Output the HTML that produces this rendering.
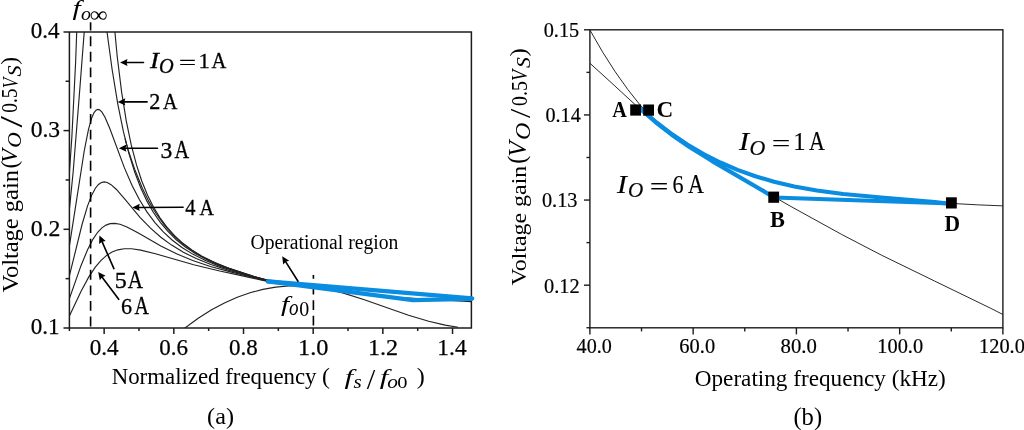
<!DOCTYPE html>
<html><head><meta charset="utf-8"><title>Voltage gain plots</title>
<style>html,body{margin:0;padding:0;background:#fff;overflow:hidden}svg{display:block}</style></head>
<body><svg width="1024" height="430" viewBox="0 0 1024 430">
<rect width="1024" height="430" fill="#fff"/>
<defs><clipPath id="cl"><rect x="69.4" y="31.9" width="402.0" height="296.1"/></clipPath></defs>
<g clip-path="url(#cl)">
<path d="M68.00 193.22 L71.91 136.16 L75.62 62.19 L79.23 -37.29 L79.74 -50.00 L108.69 -50.00 L113.12 12.93 L117.24 56.70 L121.67 92.38 L126.30 121.08 L131.24 144.94 L136.50 164.91 L141.67 180.69 L147.56 195.22 L153.46 207.04 L159.84 217.57 L166.71 226.92 L174.57 235.68 L182.91 243.31 L192.24 250.30 L203.04 256.87 L215.32 262.89 L229.07 268.28 L253.61 276.41 L268.34 280.36 L287.00 283.73" fill="none" stroke="#222" stroke-width="1.15"/>
<path d="M68.00 223.26 L73.15 171.96 L79.33 95.26 L86.13 6.96 L89.12 -21.63 L91.28 -34.56 L92.82 -39.25 L93.85 -40.27 L94.78 -39.83 L96.22 -36.81 L98.49 -27.28 L102.30 -2.74 L112.09 69.25 L117.85 104.36 L123.42 131.73 L129.08 154.17 L134.85 172.61 L140.69 187.81 L147.07 201.37 L153.46 212.51 L160.33 222.43 L167.69 231.23 L176.04 239.46 L185.37 246.98 L195.68 253.76 L207.46 260.03 L220.72 265.70 L244.78 273.89 L264.91 279.70 L286.02 283.61 L287.00 283.77" fill="none" stroke="#222" stroke-width="1.15"/>
<path d="M68.00 254.84 L76.76 198.80 L84.38 150.03 L88.50 129.30 L91.59 118.26 L94.06 112.62 L96.02 110.15 L97.77 109.36 L99.52 109.78 L101.79 111.88 L104.88 116.98 L109.72 128.30 L124.34 167.63 L132.07 185.45 L139.48 199.83 L147.07 212.08 L154.93 222.61 L163.28 231.88 L172.11 239.99 L181.93 247.42 L192.73 254.12 L205.01 260.30 L218.76 265.90 L234.96 271.16 L256.07 277.56 L268.83 280.70 L287.00 283.83" fill="none" stroke="#222" stroke-width="1.15"/>
<path d="M68.00 281.50 L82.11 224.25 L87.57 205.83 L91.79 194.89 L95.40 188.22 L98.49 184.48 L101.37 182.55 L104.15 181.94 L107.24 182.51 L111.06 184.63 L116.21 189.24 L125.68 200.24 L140.00 217.30 L150.51 228.16 L160.82 237.19 L171.62 245.11 L183.41 252.24 L196.17 258.59 L210.90 264.53 L227.59 269.92 L259.01 278.69 L269.33 281.01 L287.00 283.91" fill="none" stroke="#222" stroke-width="1.15"/>
<path d="M68.00 302.56 L80.98 265.68 L87.67 249.45 L93.03 239.07 L97.67 232.28 L101.89 227.88 L106.01 225.11 L110.13 223.67 L114.66 223.35 L120.02 224.28 L126.92 226.92 L138.35 233.09 L160.82 246.05 L176.53 253.83 L192.73 260.51 L210.41 266.46 L230.54 271.91 L263.92 280.25 L286.51 283.94 L287.00 284.01" fill="none" stroke="#222" stroke-width="1.15"/>
<path d="M68.00 319.00 L81.08 291.14 L88.81 276.92 L95.30 267.11 L101.06 260.28 L106.63 255.35 L112.09 251.99 L117.85 249.81 L124.14 248.73 L131.55 248.75 L140.69 250.08 L155.42 253.78 L193.72 264.77 L219.74 271.03 L241.34 275.63 L267.36 281.31 L287.00 284.13" fill="none" stroke="#222" stroke-width="1.15"/>
<path d="M400.00 297.50 L471.40 301.60" fill="none" stroke="#222" stroke-width="1.15"/>
<path d="M125.00 138.50 L127.84 149.19 L134.74 169.44 L142.46 188.46 L148.95 201.66 L155.86 213.22 L164.79 225.59 L172.50 234.34 L181.03 242.28 L190.37 249.39 L200.92 255.95 L212.70 261.89 L226.50 267.48 L252.89 276.24 L267.92 280.29 L287.00 283.74" fill="none" stroke="#222" stroke-width="1.15"/>
<path d="M184.10 328.61 L197.84 318.51 L211.58 309.82 L224.41 302.95 L237.23 297.27 L250.06 292.76 L262.88 289.39 L275.71 287.15 L288.53 286.01 L301.35 285.97 L314.18 287.00 L327.92 289.26 L343.49 293.10 L363.65 299.47 L408.53 315.22 L428.69 321.25 L445.18 325.13 L458.00 327.27" fill="none" stroke="#222" stroke-width="1.15"/>
</g>
<line x1="90.6" y1="22.3" x2="90.6" y2="328.0" stroke="#000" stroke-width="1.6" stroke-dasharray="9.9 5.67" stroke-dashoffset="1.6"/>
<line x1="313.4" y1="274.9" x2="313.4" y2="328.0" stroke="#000" stroke-width="1.6" stroke-dasharray="9.8 5.8" stroke-dashoffset="5.9"/>
<path d="M63.5 31.9 L471.4 31.9 L471.4 328.0 L63.5 328.0" fill="none" stroke="#1c1c1c" stroke-width="1.5"/>
<line x1="69.4" y1="31.9" x2="69.4" y2="331.0" stroke="#1c1c1c" stroke-width="1.5"/>
<line x1="63.5" y1="229.30" x2="69.4" y2="229.30" stroke="#1c1c1c" stroke-width="1.5"/>
<line x1="63.5" y1="130.60" x2="69.4" y2="130.60" stroke="#1c1c1c" stroke-width="1.5"/>
<line x1="65.6" y1="278.65" x2="69.4" y2="278.65" stroke="#1c1c1c" stroke-width="1.5"/>
<line x1="65.6" y1="179.95" x2="69.4" y2="179.95" stroke="#1c1c1c" stroke-width="1.5"/>
<line x1="65.6" y1="81.25" x2="69.4" y2="81.25" stroke="#1c1c1c" stroke-width="1.5"/>
<line x1="104.14" y1="328.0" x2="104.14" y2="334.0" stroke="#1c1c1c" stroke-width="1.5"/>
<line x1="173.82" y1="328.0" x2="173.82" y2="334.0" stroke="#1c1c1c" stroke-width="1.5"/>
<line x1="243.50" y1="328.0" x2="243.50" y2="334.0" stroke="#1c1c1c" stroke-width="1.5"/>
<line x1="313.18" y1="328.0" x2="313.18" y2="334.0" stroke="#1c1c1c" stroke-width="1.5"/>
<line x1="382.86" y1="328.0" x2="382.86" y2="334.0" stroke="#1c1c1c" stroke-width="1.5"/>
<line x1="452.54" y1="328.0" x2="452.54" y2="334.0" stroke="#1c1c1c" stroke-width="1.5"/>
<line x1="138.98" y1="328.0" x2="138.98" y2="331.0" stroke="#1c1c1c" stroke-width="1.5"/>
<line x1="208.66" y1="328.0" x2="208.66" y2="331.0" stroke="#1c1c1c" stroke-width="1.5"/>
<line x1="278.34" y1="328.0" x2="278.34" y2="331.0" stroke="#1c1c1c" stroke-width="1.5"/>
<line x1="348.02" y1="328.0" x2="348.02" y2="331.0" stroke="#1c1c1c" stroke-width="1.5"/>
<line x1="417.70" y1="328.0" x2="417.70" y2="331.0" stroke="#1c1c1c" stroke-width="1.5"/>
<path d="M268.0 281.4 L472.2 298.3" fill="none" stroke="#0a8de0" stroke-width="4.3" stroke-linecap="round"/>
<path d="M268.0 281.4 L413.0 300.1 L471.5 298.9" fill="none" stroke="#0a8de0" stroke-width="4.3" stroke-linecap="round" stroke-linejoin="round"/>
<text x="30.68" y="334.47" font-family="'Liberation Serif', serif" font-style="normal" font-weight="normal" font-size="23.43" textLength="28.80" lengthAdjust="spacingAndGlyphs" fill="#000" stroke="#000" stroke-width="0.25">0.1</text>
<text x="30.65" y="235.77" font-family="'Liberation Serif', serif" font-style="normal" font-weight="normal" font-size="23.43" textLength="29.74" lengthAdjust="spacingAndGlyphs" fill="#000" stroke="#000" stroke-width="0.25">0.2</text>
<text x="30.66" y="137.07" font-family="'Liberation Serif', serif" font-style="normal" font-weight="normal" font-size="23.43" textLength="29.49" lengthAdjust="spacingAndGlyphs" fill="#000" stroke="#000" stroke-width="0.25">0.3</text>
<text x="30.68" y="38.37" font-family="'Liberation Serif', serif" font-style="normal" font-weight="normal" font-size="23.43" textLength="28.75" lengthAdjust="spacingAndGlyphs" fill="#000" stroke="#000" stroke-width="0.25">0.4</text>
<text x="89.67" y="355.28" font-family="'Liberation Serif', serif" font-style="normal" font-weight="normal" font-size="22.39" textLength="28.96" lengthAdjust="spacingAndGlyphs" fill="#000" stroke="#000" stroke-width="0.25">0.4</text>
<text x="159.28" y="355.28" font-family="'Liberation Serif', serif" font-style="normal" font-weight="normal" font-size="22.39" textLength="28.71" lengthAdjust="spacingAndGlyphs" fill="#000" stroke="#000" stroke-width="0.25">0.6</text>
<text x="229.08" y="355.28" font-family="'Liberation Serif', serif" font-style="normal" font-weight="normal" font-size="22.39" textLength="28.74" lengthAdjust="spacingAndGlyphs" fill="#000" stroke="#000" stroke-width="0.25">0.8</text>
<text x="298.11" y="355.28" font-family="'Liberation Serif', serif" font-style="normal" font-weight="normal" font-size="22.39" textLength="30.36" lengthAdjust="spacingAndGlyphs" fill="#000" stroke="#000" stroke-width="0.25">1.0</text>
<text x="368.03" y="355.27" font-family="'Liberation Serif', serif" font-style="normal" font-weight="normal" font-size="22.73" textLength="30.18" lengthAdjust="spacingAndGlyphs" fill="#000" stroke="#000" stroke-width="0.25">1.2</text>
<text x="437.39" y="355.27" font-family="'Liberation Serif', serif" font-style="normal" font-weight="normal" font-size="22.73" textLength="29.24" lengthAdjust="spacingAndGlyphs" fill="#000" stroke="#000" stroke-width="0.25">1.4</text>
<text x="111.71" y="383.70" font-family="'Liberation Serif', serif" font-style="normal" font-weight="normal" font-size="22.44" textLength="204.84" lengthAdjust="spacingAndGlyphs" fill="#000">Normalized frequency</text>
<text x="322.05" y="383.98" font-family="'Liberation Serif', serif" font-style="normal" font-weight="normal" font-size="23.44" textLength="7.94" lengthAdjust="spacingAndGlyphs" fill="#000">(</text>
<text x="344.49" y="383.60" font-family="'Liberation Serif', serif" font-style="italic" font-weight="normal" font-size="21.43" textLength="8.63" lengthAdjust="spacingAndGlyphs" fill="#000">f</text>
<text x="353.59" y="387.92" font-family="'Liberation Serif', serif" font-style="italic" font-weight="normal" font-size="17.92" textLength="8.23" lengthAdjust="spacingAndGlyphs" fill="#000">s</text>
<text x="366.70" y="388.61" font-family="'Liberation Serif', serif" font-style="normal" font-weight="normal" font-size="29.10" textLength="8.53" lengthAdjust="spacingAndGlyphs" fill="#000">/</text>
<text x="379.69" y="383.60" font-family="'Liberation Serif', serif" font-style="italic" font-weight="normal" font-size="21.43" textLength="8.55" lengthAdjust="spacingAndGlyphs" fill="#000">f</text>
<text x="387.16" y="387.92" font-family="'Liberation Serif', serif" font-style="italic" font-weight="normal" font-size="17.92" textLength="10.68" lengthAdjust="spacingAndGlyphs" fill="#000">o</text>
<text x="397.18" y="387.93" font-family="'Liberation Serif', serif" font-style="normal" font-weight="normal" font-size="17.46" textLength="10.24" lengthAdjust="spacingAndGlyphs" fill="#000">0</text>
<text x="416.78" y="383.98" font-family="'Liberation Serif', serif" font-style="normal" font-weight="normal" font-size="23.44" textLength="8.00" lengthAdjust="spacingAndGlyphs" fill="#000">)</text>
<text x="207.13" y="423.58" font-family="'Liberation Serif', serif" font-style="normal" font-weight="normal" font-size="23.89" textLength="26.83" lengthAdjust="spacingAndGlyphs" fill="#000">(a)</text>
<g transform="rotate(-90)"><text x="-292.64" y="17.50" font-family="'Liberation Serif', serif" font-style="normal" font-weight="normal" font-size="22.75" textLength="122.65" lengthAdjust="spacingAndGlyphs" fill="#000">Voltage gain</text></g>
<g transform="rotate(-90)"><text x="-168.54" y="16.92" font-family="'Liberation Serif', serif" font-style="normal" font-weight="normal" font-size="23.22" textLength="7.81" lengthAdjust="spacingAndGlyphs" fill="#000">(</text></g>
<g transform="rotate(-90)"><text x="-162.63" y="17.26" font-family="'Liberation Serif', serif" font-style="italic" font-weight="normal" font-size="23.94" textLength="13.79" lengthAdjust="spacingAndGlyphs" fill="#000">V</text></g>
<g transform="rotate(-90)"><text x="-147.67" y="20.72" font-family="'Liberation Serif', serif" font-style="italic" font-weight="normal" font-size="18.21" textLength="15.44" lengthAdjust="spacingAndGlyphs" fill="#000">O</text></g>
<g transform="rotate(-90)"><text x="-127.50" y="21.49" font-family="'Liberation Serif', serif" font-style="normal" font-weight="normal" font-size="30.75" textLength="11.41" lengthAdjust="spacingAndGlyphs" fill="#000">/</text></g>
<g transform="rotate(-90)"><text x="-112.78" y="17.28" font-family="'Liberation Serif', serif" font-style="normal" font-weight="normal" font-size="22.24" textLength="24.25" lengthAdjust="spacingAndGlyphs" fill="#000">0.5</text></g>
<g transform="rotate(-90)"><text x="-88.36" y="18.06" font-family="'Liberation Serif', serif" font-style="italic" font-weight="normal" font-size="23.79" textLength="10.46" lengthAdjust="spacingAndGlyphs" fill="#000">V</text></g>
<g transform="rotate(-90)"><text x="-76.42" y="20.71" font-family="'Liberation Serif', serif" font-style="italic" font-weight="normal" font-size="19.40" textLength="11.17" lengthAdjust="spacingAndGlyphs" fill="#000">S</text></g>
<g transform="rotate(-90)"><text x="-64.70" y="16.92" font-family="'Liberation Serif', serif" font-style="normal" font-weight="normal" font-size="23.22" textLength="7.81" lengthAdjust="spacingAndGlyphs" fill="#000">)</text></g>
<text x="72.61" y="15.38" font-family="'Liberation Serif', serif" font-style="italic" font-weight="normal" font-size="21.54" textLength="8.19" lengthAdjust="spacingAndGlyphs" fill="#000">f</text>
<text x="81.00" y="19.72" font-family="'Liberation Serif', serif" font-style="italic" font-weight="normal" font-size="18.12" textLength="10.00" lengthAdjust="spacingAndGlyphs" fill="#000">o</text>
<text x="89.69" y="22.11" font-family="'Liberation Serif', serif" font-style="normal" font-weight="normal" font-size="22.11" textLength="17.94" lengthAdjust="spacingAndGlyphs" fill="#000">∞</text>
<text x="280.91" y="311.21" font-family="'Liberation Serif', serif" font-style="italic" font-weight="normal" font-size="21.87" textLength="8.12" lengthAdjust="spacingAndGlyphs" fill="#000">f</text>
<text x="288.93" y="315.27" font-family="'Liberation Serif', serif" font-style="italic" font-weight="normal" font-size="22.92" textLength="9.55" lengthAdjust="spacingAndGlyphs" fill="#000">o</text>
<text x="299.20" y="315.99" font-family="'Liberation Serif', serif" font-style="normal" font-weight="normal" font-size="20.90" textLength="10.00" lengthAdjust="spacingAndGlyphs" fill="#000">0</text>
<text x="150.07" y="68.00" font-family="'Liberation Serif', serif" font-style="italic" font-weight="normal" font-size="23.54" textLength="8.94" lengthAdjust="spacingAndGlyphs" fill="#000" stroke="#000" stroke-width="0.30">I</text>
<text x="158.98" y="72.50" font-family="'Liberation Serif', serif" font-style="italic" font-weight="normal" font-size="20.45" textLength="14.67" lengthAdjust="spacingAndGlyphs" fill="#000" stroke="#000" stroke-width="0.30">O</text>
<text x="178.99" y="68.52" font-family="'Liberation Serif', serif" font-style="normal" font-weight="normal" font-size="19.60" textLength="17.04" lengthAdjust="spacingAndGlyphs" fill="#000" stroke="#000" stroke-width="0.30">=</text>
<text x="198.47" y="68.00" font-family="'Liberation Serif', serif" font-style="normal" font-weight="normal" font-size="22.00" textLength="11.29" lengthAdjust="spacingAndGlyphs" fill="#000" stroke="#000" stroke-width="0.30">1</text>
<text x="211.59" y="68.00" font-family="'Liberation Serif', serif" font-style="normal" font-weight="normal" font-size="23.94" textLength="14.85" lengthAdjust="spacingAndGlyphs" fill="#000" stroke="#000" stroke-width="0.30">A</text>
<line x1="126.60" y1="62.50" x2="143.50" y2="62.50" stroke="#000" stroke-width="1.6" stroke-linecap="round"/>
<path d="M120.00 62.50 L127.50 66.10 L126.60 62.50 L127.50 58.90 Z" fill="#000"/>
<text x="149.31" y="108.70" font-family="'Liberation Serif', serif" font-style="normal" font-weight="normal" font-size="22.15" textLength="11.10" lengthAdjust="spacingAndGlyphs" fill="#000" stroke="#000" stroke-width="0.30">2</text>
<text x="163.00" y="108.70" font-family="'Liberation Serif', serif" font-style="normal" font-weight="normal" font-size="23.79" textLength="14.44" lengthAdjust="spacingAndGlyphs" fill="#000" stroke="#000" stroke-width="0.30">A</text>
<line x1="124.40" y1="101.90" x2="147.10" y2="101.90" stroke="#000" stroke-width="1.6" stroke-linecap="round"/>
<path d="M117.80 101.90 L125.30 105.50 L124.40 101.90 L125.30 98.30 Z" fill="#000"/>
<text x="160.52" y="157.77" font-family="'Liberation Serif', serif" font-style="normal" font-weight="normal" font-size="22.99" textLength="11.83" lengthAdjust="spacingAndGlyphs" fill="#000" stroke="#000" stroke-width="0.30">3</text>
<text x="174.60" y="157.60" font-family="'Liberation Serif', serif" font-style="normal" font-weight="normal" font-size="24.24" textLength="14.65" lengthAdjust="spacingAndGlyphs" fill="#000" stroke="#000" stroke-width="0.30">A</text>
<line x1="125.50" y1="148.20" x2="157.50" y2="148.20" stroke="#000" stroke-width="1.6" stroke-linecap="round"/>
<path d="M118.90 148.20 L126.40 151.80 L125.50 148.20 L126.40 144.60 Z" fill="#000"/>
<text x="185.29" y="215.30" font-family="'Liberation Serif', serif" font-style="normal" font-weight="normal" font-size="22.15" textLength="10.21" lengthAdjust="spacingAndGlyphs" fill="#000" stroke="#000" stroke-width="0.30">4</text>
<text x="199.50" y="215.30" font-family="'Liberation Serif', serif" font-style="normal" font-weight="normal" font-size="23.64" textLength="14.44" lengthAdjust="spacingAndGlyphs" fill="#000" stroke="#000" stroke-width="0.30">A</text>
<line x1="138.90" y1="207.46" x2="183.10" y2="207.20" stroke="#000" stroke-width="1.6" stroke-linecap="round"/>
<path d="M132.30 207.50 L139.82 211.06 L138.90 207.46 L139.78 203.86 Z" fill="#000"/>
<text x="114.66" y="287.78" font-family="'Liberation Serif', serif" font-style="normal" font-weight="normal" font-size="22.27" textLength="12.00" lengthAdjust="spacingAndGlyphs" fill="#000" stroke="#000" stroke-width="0.30">5</text>
<text x="127.79" y="288.00" font-family="'Liberation Serif', serif" font-style="normal" font-weight="normal" font-size="24.24" textLength="15.26" lengthAdjust="spacingAndGlyphs" fill="#000" stroke="#000" stroke-width="0.30">A</text>
<line x1="102.06" y1="241.64" x2="113.90" y2="268.60" stroke="#000" stroke-width="1.6" stroke-linecap="round"/>
<path d="M99.40 235.60 L99.12 243.91 L102.06 241.64 L105.71 241.02 Z" fill="#000"/>
<text x="121.02" y="313.97" font-family="'Liberation Serif', serif" font-style="normal" font-weight="normal" font-size="22.84" textLength="11.05" lengthAdjust="spacingAndGlyphs" fill="#000" stroke="#000" stroke-width="0.30">6</text>
<text x="134.40" y="314.20" font-family="'Liberation Serif', serif" font-style="normal" font-weight="normal" font-size="24.55" textLength="14.34" lengthAdjust="spacingAndGlyphs" fill="#000" stroke="#000" stroke-width="0.30">A</text>
<line x1="102.16" y1="277.28" x2="118.70" y2="299.30" stroke="#000" stroke-width="1.6" stroke-linecap="round"/>
<path d="M98.20 272.00 L99.82 280.16 L102.16 277.28 L105.58 275.84 Z" fill="#000"/>
<text x="250.61" y="248.80" font-family="'Liberation Serif', serif" font-style="normal" font-weight="normal" font-size="20.00" textLength="147.68" lengthAdjust="spacingAndGlyphs" fill="#000">Operational region</text>
<line x1="285.74" y1="261.87" x2="298.00" y2="281.20" stroke="#000" stroke-width="1.6" stroke-linecap="round"/>
<path d="M282.20 256.30 L283.18 264.56 L285.74 261.87 L289.26 260.70 Z" fill="#000"/>
<defs><clipPath id="cr"><rect x="589.9" y="29.8" width="413.0" height="298.0"/></clipPath></defs>
<g clip-path="url(#cr)">
<path d="M589.50 29.31 L602.77 52.32 L615.22 71.77 L627.66 89.29 L639.28 103.96 L648.41 113.81 L660.02 124.52 L673.30 135.23 L686.57 144.53 L700.67 153.08 L715.61 160.84 L731.37 167.77 L748.79 174.12 L767.88 179.76 L789.45 184.83 L817.66 190.05 L850.01 194.80 L885.69 198.79 L926.34 202.07 L977.78 204.85 L1003.50 205.90" fill="none" stroke="#2a2a2a" stroke-width="1.0"/>
<path d="M589.50 62.85 L611.90 83.23 L639.28 108.47 L656.70 123.07 L674.95 136.88 L694.87 150.47 L718.93 165.32 L791.11 206.59 L841.72 234.47 L881.54 255.20 L934.64 281.05 L990.23 308.06 L1003.50 314.81" fill="none" stroke="#2a2a2a" stroke-width="1.0"/>
<path d="M641.00 109.20 L656.56 122.48 L672.12 134.27 L687.68 144.67 L704.01 154.22 L720.35 162.46 L737.47 169.81 L755.36 176.24 L774.03 181.73 L794.26 186.47 L816.82 190.52 L843.27 194.01 L881.38 197.56 L935.06 202.11 L951.40 203.92" fill="none" stroke="#0a8de0" stroke-width="4.1" stroke-linecap="round" stroke-linejoin="round"/>
<path d="M641.00 109.35 L655.68 122.27 L671.69 134.75 L689.48 147.08 L711.73 160.87 L763.77 191.14 L774.00 197.51 L951.40 203.50" fill="none" stroke="#0a8de0" stroke-width="4.1" stroke-linecap="round" stroke-linejoin="round"/>
</g>
<rect x="630.20" y="104.40" width="10.8" height="11.2" fill="#000"/>
<rect x="643.20" y="104.50" width="10.8" height="11.2" fill="#000"/>
<rect x="768.30" y="191.60" width="10.8" height="11.2" fill="#000"/>
<rect x="946.00" y="197.30" width="10.8" height="11.2" fill="#000"/>
<text x="612.30" y="117.30" font-family="'Liberation Serif', serif" font-style="normal" font-weight="bold" font-size="22.12" textLength="14.55" lengthAdjust="spacingAndGlyphs" fill="#000">A</text>
<text x="656.54" y="117.06" font-family="'Liberation Serif', serif" font-style="normal" font-weight="bold" font-size="23.88" textLength="16.73" lengthAdjust="spacingAndGlyphs" fill="#000">C</text>
<text x="770.08" y="226.90" font-family="'Liberation Serif', serif" font-style="normal" font-weight="bold" font-size="22.46" textLength="14.93" lengthAdjust="spacingAndGlyphs" fill="#000">B</text>
<text x="944.57" y="230.60" font-family="'Liberation Serif', serif" font-style="normal" font-weight="bold" font-size="22.46" textLength="15.55" lengthAdjust="spacingAndGlyphs" fill="#000">D</text>
<rect x="589.9" y="29.8" width="413.00" height="298.00" fill="none" stroke="#1c1c1c" stroke-width="1.4"/>
<line x1="584.0" y1="29.80" x2="589.9" y2="29.80" stroke="#1c1c1c" stroke-width="1.4"/>
<line x1="584.0" y1="114.93" x2="589.9" y2="114.93" stroke="#1c1c1c" stroke-width="1.4"/>
<line x1="584.0" y1="200.06" x2="589.9" y2="200.06" stroke="#1c1c1c" stroke-width="1.4"/>
<line x1="584.0" y1="285.19" x2="589.9" y2="285.19" stroke="#1c1c1c" stroke-width="1.4"/>
<line x1="586.5" y1="72.37" x2="589.9" y2="72.37" stroke="#1c1c1c" stroke-width="1.4"/>
<line x1="586.5" y1="157.49" x2="589.9" y2="157.49" stroke="#1c1c1c" stroke-width="1.4"/>
<line x1="586.5" y1="242.62" x2="589.9" y2="242.62" stroke="#1c1c1c" stroke-width="1.4"/>
<line x1="586.5" y1="327.75" x2="589.9" y2="327.75" stroke="#1c1c1c" stroke-width="1.4"/>
<line x1="589.90" y1="327.8" x2="589.90" y2="334.4" stroke="#1c1c1c" stroke-width="1.4"/>
<line x1="693.15" y1="327.8" x2="693.15" y2="334.4" stroke="#1c1c1c" stroke-width="1.4"/>
<line x1="796.40" y1="327.8" x2="796.40" y2="334.4" stroke="#1c1c1c" stroke-width="1.4"/>
<line x1="899.65" y1="327.8" x2="899.65" y2="334.4" stroke="#1c1c1c" stroke-width="1.4"/>
<line x1="1002.90" y1="327.8" x2="1002.90" y2="334.4" stroke="#1c1c1c" stroke-width="1.4"/>
<line x1="641.52" y1="327.8" x2="641.52" y2="331.4" stroke="#1c1c1c" stroke-width="1.4"/>
<line x1="744.77" y1="327.8" x2="744.77" y2="331.4" stroke="#1c1c1c" stroke-width="1.4"/>
<line x1="848.02" y1="327.8" x2="848.02" y2="331.4" stroke="#1c1c1c" stroke-width="1.4"/>
<line x1="951.27" y1="327.8" x2="951.27" y2="331.4" stroke="#1c1c1c" stroke-width="1.4"/>
<text x="543.69" y="37.29" font-family="'Liberation Serif', serif" font-style="normal" font-weight="normal" font-size="21.04" textLength="35.52" lengthAdjust="spacingAndGlyphs" fill="#000" stroke="#000" stroke-width="0.20">0.15</text>
<text x="545.50" y="122.49" font-family="'Liberation Serif', serif" font-style="normal" font-weight="normal" font-size="20.90" textLength="35.21" lengthAdjust="spacingAndGlyphs" fill="#000" stroke="#000" stroke-width="0.20">0.14</text>
<text x="541.99" y="207.49" font-family="'Liberation Serif', serif" font-style="normal" font-weight="normal" font-size="21.34" textLength="35.42" lengthAdjust="spacingAndGlyphs" fill="#000" stroke="#000" stroke-width="0.20">0.13</text>
<text x="544.09" y="292.79" font-family="'Liberation Serif', serif" font-style="normal" font-weight="normal" font-size="20.75" textLength="35.63" lengthAdjust="spacingAndGlyphs" fill="#000" stroke="#000" stroke-width="0.20">0.12</text>
<text x="576.60" y="352.90" font-family="'Liberation Serif', serif" font-style="normal" font-weight="normal" font-size="20.15" textLength="35.21" lengthAdjust="spacingAndGlyphs" fill="#000" stroke="#000" stroke-width="0.20">40.0</text>
<text x="679.38" y="352.90" font-family="'Liberation Serif', serif" font-style="normal" font-weight="normal" font-size="20.15" textLength="35.73" lengthAdjust="spacingAndGlyphs" fill="#000" stroke="#000" stroke-width="0.20">60.0</text>
<text x="780.57" y="352.90" font-family="'Liberation Serif', serif" font-style="normal" font-weight="normal" font-size="20.15" textLength="36.36" lengthAdjust="spacingAndGlyphs" fill="#000" stroke="#000" stroke-width="0.20">80.0</text>
<text x="877.27" y="352.90" font-family="'Liberation Serif', serif" font-style="normal" font-weight="normal" font-size="20.15" textLength="45.85" lengthAdjust="spacingAndGlyphs" fill="#000" stroke="#000" stroke-width="0.20">100.0</text>
<text x="979.07" y="352.90" font-family="'Liberation Serif', serif" font-style="normal" font-weight="normal" font-size="20.15" textLength="45.85" lengthAdjust="spacingAndGlyphs" fill="#000" stroke="#000" stroke-width="0.20">120.0</text>
<text x="694.77" y="385.70" font-family="'Liberation Serif', serif" font-style="normal" font-weight="normal" font-size="23.05" textLength="251.01" lengthAdjust="spacingAndGlyphs" fill="#000">Operating frequency (kHz)</text>
<text x="793.41" y="424.71" font-family="'Liberation Serif', serif" font-style="normal" font-weight="normal" font-size="24.22" textLength="28.72" lengthAdjust="spacingAndGlyphs" fill="#000">(b)</text>
<g transform="rotate(-90)"><text x="-285.54" y="525.50" font-family="'Liberation Serif', serif" font-style="normal" font-weight="normal" font-size="21.37" textLength="119.84" lengthAdjust="spacingAndGlyphs" fill="#000">Voltage gain</text></g>
<g transform="rotate(-90)"><text x="-163.77" y="524.94" font-family="'Liberation Serif', serif" font-style="normal" font-weight="normal" font-size="24.56" textLength="8.07" lengthAdjust="spacingAndGlyphs" fill="#000">(</text></g>
<g transform="rotate(-90)"><text x="-156.67" y="525.65" font-family="'Liberation Serif', serif" font-style="italic" font-weight="normal" font-size="25.30" textLength="15.45" lengthAdjust="spacingAndGlyphs" fill="#000">V</text></g>
<g transform="rotate(-90)"><text x="-139.91" y="529.88" font-family="'Liberation Serif', serif" font-style="italic" font-weight="normal" font-size="21.79" textLength="17.44" lengthAdjust="spacingAndGlyphs" fill="#000">O</text></g>
<g transform="rotate(-90)"><text x="-118.10" y="529.81" font-family="'Liberation Serif', serif" font-style="normal" font-weight="normal" font-size="29.10" textLength="9.23" lengthAdjust="spacingAndGlyphs" fill="#000">/</text></g>
<g transform="rotate(-90)"><text x="-105.89" y="527.08" font-family="'Liberation Serif', serif" font-style="normal" font-weight="normal" font-size="22.24" textLength="24.79" lengthAdjust="spacingAndGlyphs" fill="#000">0.5</text></g>
<g transform="rotate(-90)"><text x="-80.92" y="527.06" font-family="'Liberation Serif', serif" font-style="italic" font-weight="normal" font-size="23.94" textLength="11.20" lengthAdjust="spacingAndGlyphs" fill="#000">V</text></g>
<g transform="rotate(-90)"><text x="-68.12" y="529.91" font-family="'Liberation Serif', serif" font-style="italic" font-weight="normal" font-size="19.40" textLength="10.85" lengthAdjust="spacingAndGlyphs" fill="#000">S</text></g>
<g transform="rotate(-90)"><text x="-56.55" y="526.03" font-family="'Liberation Serif', serif" font-style="normal" font-weight="normal" font-size="23.67" textLength="8.32" lengthAdjust="spacingAndGlyphs" fill="#000">)</text></g>
<text x="738.90" y="150.20" font-family="'Liberation Serif', serif" font-style="italic" font-weight="normal" font-size="25.23" textLength="9.99" lengthAdjust="spacingAndGlyphs" fill="#000" stroke="#000" stroke-width="0.15">I</text>
<text x="749.41" y="154.58" font-family="'Liberation Serif', serif" font-style="italic" font-weight="normal" font-size="21.94" textLength="15.78" lengthAdjust="spacingAndGlyphs" fill="#000" stroke="#000" stroke-width="0.15">O</text>
<text x="771.85" y="152.38" font-family="'Liberation Serif', serif" font-style="normal" font-weight="normal" font-size="25.60" textLength="18.60" lengthAdjust="spacingAndGlyphs" fill="#000" stroke="#000" stroke-width="0.15">=</text>
<text x="793.39" y="150.20" font-family="'Liberation Serif', serif" font-style="normal" font-weight="normal" font-size="24.46" textLength="12.29" lengthAdjust="spacingAndGlyphs" fill="#000" stroke="#000" stroke-width="0.15">1</text>
<text x="808.88" y="150.20" font-family="'Liberation Serif', serif" font-style="normal" font-weight="normal" font-size="26.36" textLength="15.87" lengthAdjust="spacingAndGlyphs" fill="#000" stroke="#000" stroke-width="0.15">A</text>
<text x="617.10" y="192.80" font-family="'Liberation Serif', serif" font-style="italic" font-weight="normal" font-size="26.00" textLength="9.90" lengthAdjust="spacingAndGlyphs" fill="#000" stroke="#000" stroke-width="0.15">I</text>
<text x="627.95" y="196.98" font-family="'Liberation Serif', serif" font-style="italic" font-weight="normal" font-size="21.79" textLength="15.22" lengthAdjust="spacingAndGlyphs" fill="#000" stroke="#000" stroke-width="0.15">O</text>
<text x="649.84" y="194.44" font-family="'Liberation Serif', serif" font-style="normal" font-weight="normal" font-size="24.00" textLength="18.72" lengthAdjust="spacingAndGlyphs" fill="#000" stroke="#000" stroke-width="0.15">=</text>
<text x="672.42" y="193.04" font-family="'Liberation Serif', serif" font-style="normal" font-weight="normal" font-size="25.52" textLength="11.05" lengthAdjust="spacingAndGlyphs" fill="#000" stroke="#000" stroke-width="0.15">6</text>
<text x="687.88" y="192.80" font-family="'Liberation Serif', serif" font-style="normal" font-weight="normal" font-size="27.27" textLength="15.92" lengthAdjust="spacingAndGlyphs" fill="#000" stroke="#000" stroke-width="0.15">A</text>
</svg></body></html>
